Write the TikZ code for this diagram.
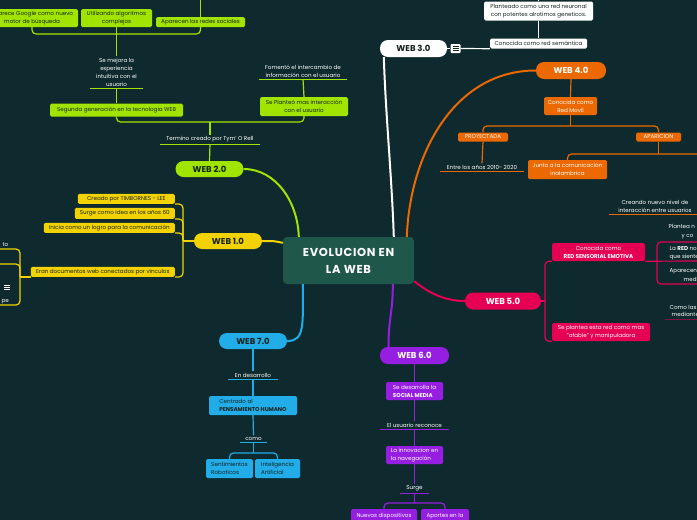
\documentclass[tikz,border=0pt]{standalone}
\usepackage{fontspec}
\setmainfont{Poppins}
\usepackage{tikz}

\definecolor{bgc}{RGB}{14,42,46}
\definecolor{rootc}{RGB}{31,88,74}
\definecolor{gr}{RGB}{160,228,0}
\definecolor{ye}{RGB}{242,210,0}
\definecolor{orc}{RGB}{236,104,0}
\definecolor{pk}{RGB}{230,0,84}
\definecolor{pu}{RGB}{150,30,224}
\definecolor{bl}{RGB}{34,172,232}
\definecolor{ink}{RGB}{22,36,30}

\tikzset{
  every node/.style={font=\fontsize{5.6}{8}\selectfont, inner sep=1pt},
  web/.style={rounded corners=8pt, minimum width=68pt, minimum height=16pt,
    font=\fontsize{8.5}{10}\selectfont\bfseries},
  box/.style={rounded corners=1.5pt, align=center},
  lbox/.style={rounded corners=1.5pt, align=left, inner xsep=4pt},
  txt/.style={text=white, align=center, inner sep=1.5pt},
  branch/.style={line width=2pt},
  lnk/.style={line width=1.2pt, rounded corners=4pt},
  notes/.style={minimum width=9pt, minimum height=8pt,
    path picture={\foreach \k in {-2.2,0,2.2}
      \draw[#1, line width=0.6pt] ([xshift=-3pt,yshift=\k pt]path picture bounding box.center) -- ++(6pt,0);}},
}

\begin{document}
\begin{tikzpicture}[x=1pt, y=-1pt]
	\useasboundingbox (0,0) rectangle (697,520);
	\fill[bgc] (0,0) rectangle (697,520);
	\clip (0,0) rectangle (697,520);

	% centre and main branches
	\node[box, fill=rootc, text=white, minimum width=131pt, minimum height=47pt, rounded corners=4pt,
	  font=\fontsize{11.5}{17}\selectfont\bfseries\addfontfeature{LetterSpace=6}] (root) at (348.5,260.5) {EVOLUCION EN\\LA WEB};

	\node[web, fill=gr, text=ink] (w2) at (209.5,169) {WEB 2.0};
	\node[web, fill=ye, text=ink] (w1) at (228,241) {WEB 1.0};
	\node[web, fill=white, text=ink, minimum width=67pt, minimum height=17pt] (w3) at (413.5,48.5) {WEB 3.0};
	\node[web, fill=orc, text=white, minimum width=70pt, minimum height=17pt] (w4) at (571,70.5) {WEB 4.0};
	\node[web, fill=pk, text=white, minimum width=76pt, minimum height=17pt] (w5) at (503,301) {WEB 5.0};
	\node[web, fill=pu, text=white, minimum width=69pt, minimum height=17pt] (w6) at (414.5,355.5) {WEB 6.0};
	\node[web, fill=bl, text=ink] (w7) at (253,341) {WEB 7.0};

	\draw[gr, branch] (w2.east) .. controls +(32,0) and +(-1,-35) .. ([xshift=16pt]root.north west);
	\draw[ye, branch] (w1.east) .. controls +(12,0) and +(-10,-2) .. ([yshift=-6pt]root.north west);
	\draw[white, branch] ([xshift=4pt]w3.south west) .. controls +(2,60) and +(-2,-60) .. ([xshift=111pt]root.north west);
	\draw[orc, branch] (w4.west) .. controls +(-82,0) and +(3,-82) .. ([xshift=124pt]root.north west);
	\draw[pk, branch] ([yshift=3pt]root.south east) .. controls +(15,12) and +(-20,0) .. (w5.west);
	\draw[pu, branch] ([xshift=110pt]root.south west) .. controls +(0,30) and +(0,-30) .. ([xshift=-26pt]w6.north);
	\draw[bl, branch] ([xshift=20pt]root.south west) .. controls +(0,40) and +(18,0) .. (w7.east);

	% WEB 2.0
	\node[txt, anchor=south, minimum width=100pt] (termino) at (210,144) {Termino creado por Tym' O Rell};
	\node[box, fill=gr, text=ink, minimum width=133pt, minimum height=13pt] (segunda) at (116.5,110) {Segunda generación en la tecnologia WEB};
	\node[box, fill=gr, text=ink, minimum width=88pt, minimum height=19pt] (planteo) at (304,106.5) {Se Planteó mas interacción\\con el usuario};
	\node[txt, anchor=south, minimum width=88pt] (fomento) at (303,79) {Fomentó el intercambio de\\información con el usuario};
	\node[txt, anchor=south, minimum width=53pt] (mejora) at (116.5,88) {Se mejora la\\experiencia\\intuitiva con el\\usuario};
	\node[box, fill=gr, text=ink, minimum width=71pt, minimum height=18pt] (utiliza) at (116.5,18) {Utilizando algoritmos\\complejos};
	\node[box, fill=gr, text=ink, minimum width=92pt, minimum height=18pt] (google) at (32,18) {Aparece Google como nuevo\\motor de búsqueda};
	\node[box, fill=gr, text=ink, minimum width=89pt, minimum height=10pt] (redes) at (200.5,22) {Aparecen las redes sociales};
	\coordinate (j1) at (116.5,34);
	\coordinate (up2) at (200.5,-5);
	\coordinate (j2) at (210,122);

	\draw[gr, lnk] (google.south) |- (j1) -| (redes.south);
	\draw[gr, lnk] (redes.north) -- (up2);
	\draw[gr, lnk] (utiliza.south) -- (mejora.north);
	\draw[gr, lnk] (mejora.south) -- (segunda.north);
	\draw[gr, lnk] (segunda.south) |- (j2) -| (planteo.south);
	\draw[gr, lnk] (planteo.north) -- (fomento.south);
	\draw[gr, lnk] (j2) -- (termino.north);
	\draw[gr, lnk] (termino.south) -- (w2.north);

	% WEB 1.0
	\node[box, fill=ye, text=ink, anchor=south east, minimum width=97pt, minimum height=10pt] (creado) at (175,204) {Creado por TIMBORNES - LEE};
	\node[box, fill=ye, text=ink, anchor=south east, minimum width=100pt, minimum height=11pt] (idea) at (175,219) {Surge como idea en los años 60};
	\node[box, fill=ye, text=ink, anchor=south east, minimum width=131pt, minimum height=10pt] (inicia) at (175,233) {Inicia como un logro para la comunicación};
	\node[box, fill=ye, text=ink, anchor=south east, minimum width=144pt, minimum height=10pt] (eran) at (175,277) {Eran documentos web conectados por vínculos};
	\coordinate (j3) at (183,241);
	\draw[ye, lnk] (w1.west) -- (j3);
	\foreach \n in {creado, idea, inicia, eran}
		\draw[ye, lnk] (j3) |- (\n.south east);

	\node[txt, anchor=base west] (cto) at (1,246) {to};
	\node[txt, anchor=base west] (pe) at (0,302) {pe};
	\node[notes=white] (notes1) at (7,287) {};
	\coordinate (jE) at (20,277);
	\coordinate (ctoline) at (0,249);
	\coordinate (midline) at (0,264);
	\coordinate (peline) at (0,305);
	\draw[ye, lnk] (eran.south west) -- (jE);
	\draw[ye, lnk] (ctoline) -| (jE) |- (peline);
	\draw[ye, lnk] (midline) -| (jE);

	% WEB 3.0
	\node[notes=ink, fill=white, rounded corners=1pt, minimum width=10pt, minimum height=9pt] (note3) at (455.5,48.5) {};
	\node[box, fill=white, text=ink, minimum width=97pt, minimum height=10pt] (semantica) at (538.5,43.5) {Conocida como red semántica};
	\node[box, fill=white, text=ink, minimum width=109pt, minimum height=19pt] (neuronal) at (538.5,11) {Planteado como una red neuronal\\con potentes alrotimos geneticos.};
	\coordinate (up3) at (538.5,-5);
	\draw[white, lnk] (w3.east) -- (note3.west);
	\draw[white, lnk] (note3.east) -- (semantica.south west);
	\draw[white, lnk] (semantica.north) -- (neuronal.south);
	\draw[white, lnk] (neuronal.north) -- (up3);

	% WEB 4.0
	\node[box, fill=orc, text=white, minimum width=53pt, minimum height=18pt] (movil) at (570.5,106) {Conocida como\\Red Movil};
	\node[box, fill=orc, text=white, minimum width=50pt, minimum height=9pt] (proy) at (483,137) {PROYECTADA};
	\node[box, fill=orc, text=white, minimum width=45pt, minimum height=9pt] (apar) at (658.5,137) {APARICION};
	\node[txt, anchor=south, minimum width=84pt] (entre) at (482,171) {Entre los años 2010- 2020};
	\node[box, fill=orc, text=white, minimum width=79pt, minimum height=19pt] (junto) at (567.5,169.5) {Junto a la comunicación\\inalambrica};
	\node[txt, anchor=south, minimum width=92pt] (creando) at (655,214) {Creando nuevo nivel de\\interacción entre usuarios};
	\coordinate (j4) at (570.5,126);
	\coordinate (j4b) at (658.5,154);
	\coordinate (r4) at (705,154);
	\draw[orc, lnk] (w4.south) -- (movil.north);
	\draw[orc, lnk] (movil.south) -- (j4);
	\draw[orc, lnk] (proy.north) |- (j4) -| (apar.north);
	\draw[orc, lnk] (proy.south) -- (entre.north);
	\draw[orc, lnk] (apar.south) -- (j4b);
	\draw[orc, lnk] (junto.north) |- (j4b) -- (r4);

	% WEB 5.0
	\node[box, fill=pk, text=white, minimum width=93pt, minimum height=18pt] (emotiva) at (598.5,252) {Conocida como\\\textbf{RED SENSORIAL EMOTIVA}};
	\node[box, fill=pk, text=white, minimum width=98pt, minimum height=18pt] (afable) at (601,332) {Se plantea esta red como mas\\"afable" y manipuladora};
	\node[txt, anchor=base west] (plantea1) at (667,228) {Plantea n};
	\node[txt, anchor=base west] (plantea2) at (680,237) {y co};
	\node[txt, anchor=base west] (lared1) at (668,250) {La \textbf{RED} no};
	\node[txt, anchor=base west] (lared2) at (668,258) {que siente};
	\node[txt, anchor=base west] (aparecen1) at (668,272) {Aparecen};
	\node[txt, anchor=base west] (aparecen2) at (682,281) {medi};
	\node[txt, anchor=base west] (comolas1) at (668,309) {Como las n};
	\node[txt, anchor=base west] (comolas2) at (670,316) {mediante};
	\coordinate (j5) at (545,301);
	\coordinate (k5) at (657,261);
	\coordinate (r5t) at (705,242);
	\coordinate (r5m) at (705,261);
	\coordinate (r5b) at (705,284);
	\draw[pk, lnk] (w5.east) -- (j5);
	\draw[pk, lnk] (emotiva.south west) -| (j5);
	\draw[pk, lnk] (afable.south west) -| (j5);
	\draw[pk, lnk] (emotiva.south east) -- (r5m);
	\draw[pk, lnk] (r5t) -| (k5) |- (r5b);
	\draw[pk!55!bgc, line width=1pt] ([xshift=-5pt,yshift=-3pt]comolas2.base west) -- +(45,0);

	% WEB 6.0
	\node[lbox, fill=pu, text=white, minimum width=57pt, minimum height=18pt] (social) at (414.5,391) {Se desarrolla la\\\textbf{SOCIAL MEDIA}};
	\node[txt, anchor=south, minimum width=69pt] (usuario) at (414.5,429) {El usuario reconoce};
	\node[lbox, fill=pu, text=white, minimum width=57pt, minimum height=18pt] (innov) at (414.5,455) {La innovacion en\\la navegación};
	\node[txt, anchor=south, minimum width=29pt] (surge) at (414.5,493) {Surge};
	\node[box, fill=pu, text=white, anchor=north, minimum width=66pt, minimum height=13pt] (nuevos) at (384,509) {Nuevos dispositivos};
	\node[box, fill=pu, text=white, anchor=north, minimum width=48pt, minimum height=13pt] (aportes) at (445,509) {Aportes en la};
	\coordinate (j6) at (414.5,503);
	\draw[pu, lnk] (w6.south) -- (social.north);
	\draw[pu, lnk] (social.south) -- (usuario.north);
	\draw[pu, lnk] (usuario.south) -- (innov.north);
	\draw[pu, lnk] (innov.south) -- (surge.north);
	\draw[pu, lnk] (surge.south) -- (j6);
	\draw[pu, lnk] (nuevos.north) |- (j6) -| (aportes.north);

	% WEB 7.0
	\node[txt, anchor=south, minimum width=50pt] (desarrollo) at (253,379) {En desarrollo};
	\node[lbox, fill=bl, text=ink, minimum width=88pt, minimum height=19pt] (centrado) at (253,405.5) {Centrado al\\\textbf{PENSAMIENTO HUMANO}};
	\node[txt, anchor=south, minimum width=27pt] (como) at (253.5,442) {como};
	\node[lbox, fill=bl, text=ink, minimum width=47pt, minimum height=19pt] (senti) at (229.5,468.5) {Sentimientos\\Roboticos};
	\node[lbox, fill=bl, text=ink, minimum width=45pt, minimum height=19pt] (intel) at (277.5,468.5) {Inteligencia\\Artificial};
	\coordinate (j7) at (253.5,453);
	\draw[bl, lnk] (w7.south) -- (desarrollo.north);
	\draw[bl, lnk] (desarrollo.south) -- (centrado.north);
	\draw[bl, lnk] (centrado.south) -- (como.north);
	\draw[bl, lnk] (como.south) -- (j7);
	\draw[bl, lnk] (senti.north) |- (j7) -| (intel.north);

	% underlines of the plain labels
	\foreach \n/\c in {termino/gr, mejora/gr, fomento/gr, entre/orc, creando/orc, usuario/pu, surge/pu, desarrollo/bl, como/bl}
		\draw[\c, line width=1pt] (\n.south west) -- (\n.south east);
\end{tikzpicture}
\end{document}
